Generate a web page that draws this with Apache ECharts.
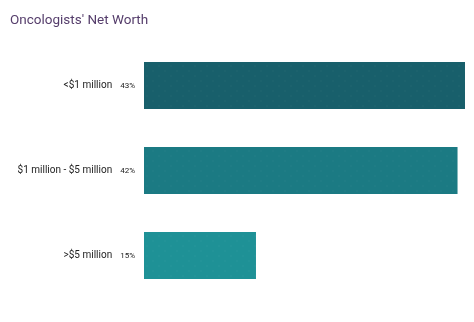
<!DOCTYPE html>
<html><head><meta charset="utf-8">
<script src="https://cdn.jsdelivr.net/npm/echarts@6/dist/echarts.min.js"></script>
<style>html,body{margin:0;padding:0;background:#fff}#c{width:474px;height:322px}</style>
</head><body><div id="c"></div>
<script>
const categories = ['<$1 million', '$1 million - $5 million', '>$5 million'];
const values = [43, 42, 15];
const barColors = ['#185f6b', '#1b7a83', '#1e9196'];
const titleText = "Oncologists' Net Worth";

const chart = echarts.init(document.getElementById('c'));
chart.setOption({
  animation: false,
  title: {
    text: titleText, left: 5, top: 9,
    textStyle: { fontFamily: 'Roboto', fontSize: 13.5, fontWeight: 'normal', color: '#553d6b' }
  },
  grid: { left: 144, right: 9, top: 43, bottom: 24, containLabel: false, outerBoundsMode: 'none' },
  xAxis: { type: 'value', min: 0, max: 43, show: false },
  yAxis: {
    type: 'category', data: categories, inverse: true,
    axisLine: { show: false }, axisTick: { show: false },
    axisLabel: {
      margin: 9,
      formatter: function (v, i) { return '{a|' + v + '}{s|}{b|' + values[i] + '%}'; },
      rich: {
        a: { fontFamily: 'Roboto', fontSize: 10, color: '#222222' },
        s: { width: 8 },
        b: { fontFamily: 'Roboto', fontSize: 8, color: '#222222' }
      }
    }
  },
  series: [{
    type: 'bar', barWidth: 47,
    data: values.map((v, i) => ({ value: v, itemStyle: { color: barColors[i],
      decal: { symbol: 'rect', symbolSize: 0.25, dashArrayX: [[6, 6], [0, 6, 6, 0]], dashArrayY: [2, 3], color: 'rgba(255,255,255,0.12)' } } }))
  }]
});
</script></body></html>
